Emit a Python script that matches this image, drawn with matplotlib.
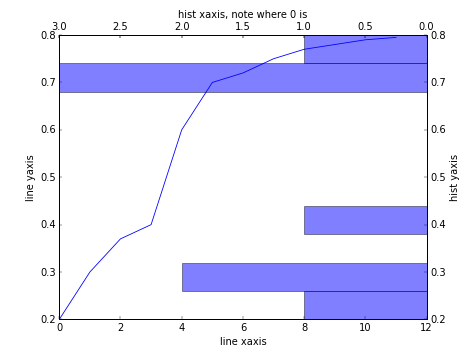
import numpy as np
import matplotlib
matplotlib.use("Agg")
import matplotlib.pyplot as plt

plt.style.use("classic")

# line data
line_x = [0, 1, 2, 3, 4, 5, 6, 7, 8, 9, 10, 11]
line_y = [0.2, 0.3, 0.37, 0.4, 0.6, 0.7, 0.72, 0.75, 0.77, 0.78, 0.79, 0.795]

# histogram (horizontal) bins and counts
bin_edges = [0.2, 0.26, 0.32, 0.38, 0.44, 0.5, 0.56, 0.62, 0.68, 0.74, 0.8]
counts = [1, 2, 0, 1, 0, 0, 0, 0, 3, 1]

fig = plt.figure(figsize=(8, 6), dpi=59.25)
ax1 = fig.add_subplot(111)
ax1.plot(line_x, line_y, color="b")
ax1.set_xlim(0, 12)
ax1.set_ylim(0.2, 0.8)
ax1.set_xlabel("line xaxis")
ax1.set_ylabel("line yaxis")

ax2 = ax1.twinx()
ax2.set_ylabel("hist yaxis")
ax3 = ax2.twiny()

centers = [(bin_edges[i] + bin_edges[i + 1]) / 2 for i in range(len(counts))]
ax3.hist(centers, bins=bin_edges, weights=counts, orientation="horizontal",
         facecolor="b", alpha=0.5)
ax3.set_xlim(3, 0)
ax2.set_ylim(0.2, 0.8)
ax3.set_xlabel("hist xaxis, note where 0 is")

fig.savefig("out.png", dpi=59.25)
